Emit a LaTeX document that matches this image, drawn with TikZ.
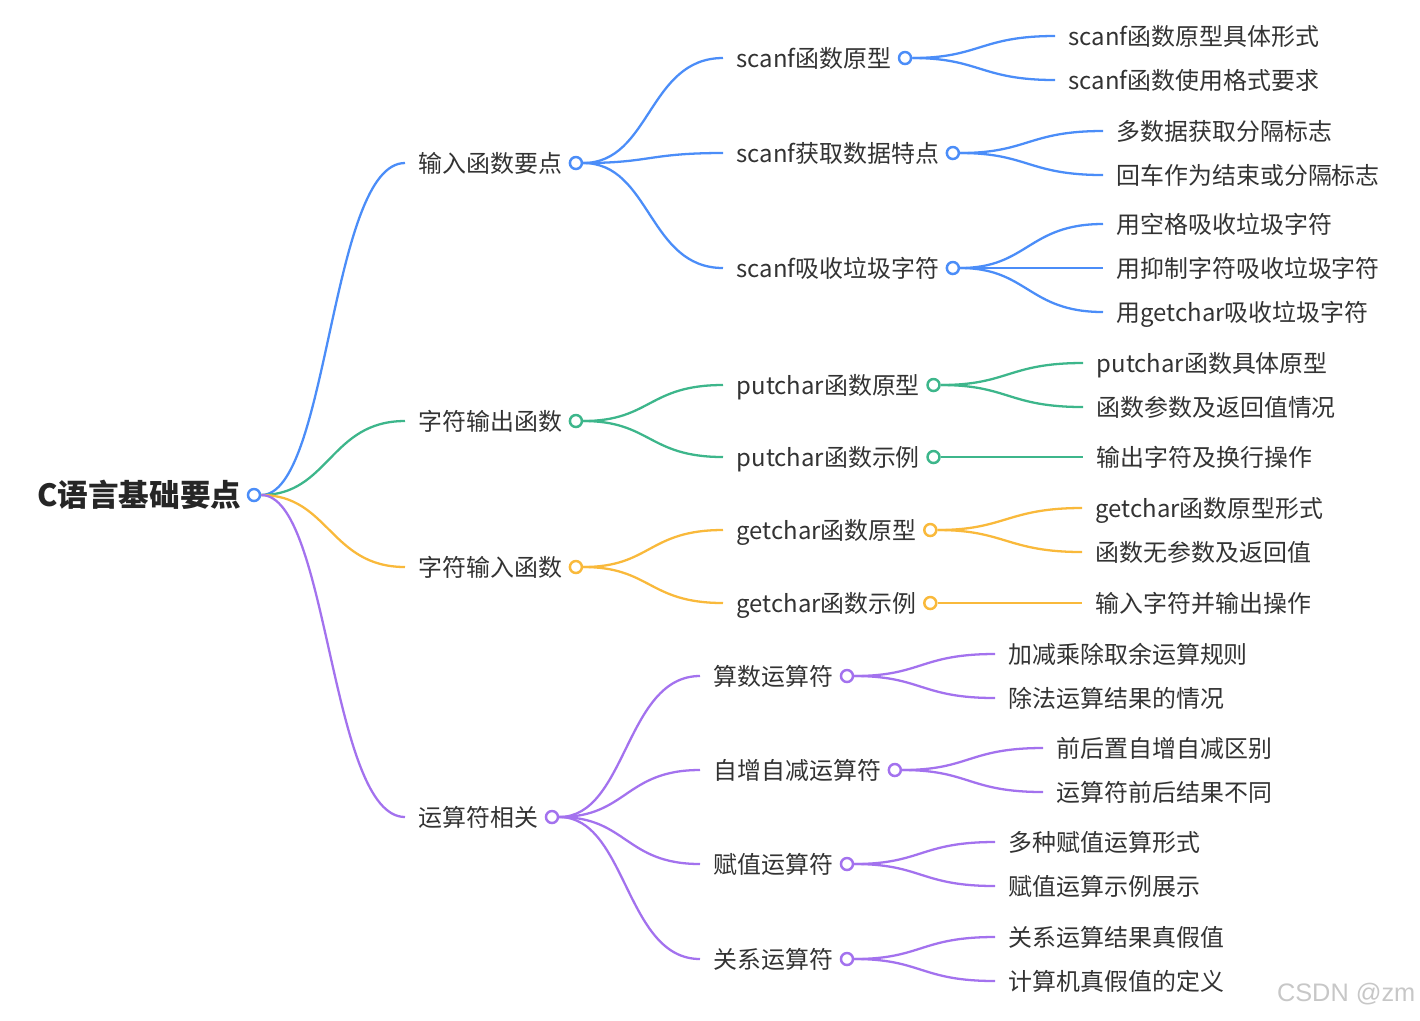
\documentclass[tikz,border=0pt]{standalone}
\usepackage{fontspec}
\setmainfont{Noto Sans CJK SC}
\newfontfamily\markfont{Liberation Sans}
\usetikzlibrary{positioning}
\definecolor{mapBlue}{HTML}{4B8DF8}
\definecolor{mapGreen}{HTML}{3DB68B}
\definecolor{mapOrange}{HTML}{F9B93B}
\definecolor{mapPurple}{HTML}{A372EE}
\definecolor{mapText}{HTML}{333333}

\begin{document}
\begin{tikzpicture}[
    x=0.01cm, y=-0.01cm,
    topic/.style={anchor=west, inner xsep=0.13cm, inner ysep=0pt, text=mapText,
                  font=\fontsize{6.8pt}{8pt}\selectfont, text height=6pt, text depth=0.6pt},
    rootlabel/.style={anchor=east, inner sep=0pt, text=black!85,
                  font=\fontsize{8.7pt}{10pt}\selectfont\bfseries, text height=7.6pt, text depth=1pt},
    dot/.style={circle, draw=#1, fill=white, line width=0.7pt, minimum size=0.12cm, inner sep=0pt},
    link/.style={draw=#1, line width=0.65pt,
                 to path={.. controls +(75,0) and +(-75,0) .. (\tikztotarget)}},
  ]
    \useasboundingbox (0,0) rectangle (1420,1020);

    % ─── Root ───
    \node[rootlabel] (root) at (242,495) {C语言基础要点};
    \node[dot=mapBlue] (rootDot) at (254,495) {};

    % ─── 输入函数要点 ───
    \node[topic] (scanIn) at (405,163) {输入函数要点};
    \draw[link=mapBlue] (rootDot) to (scanIn.west);
    \node[dot=mapBlue] (scanInDot) at (scanIn.east) {};
    \node[topic] (scanProto) at (723,58) {scanf函数原型};
    \node[topic] (scanFeat) at (723,153) {scanf获取数据特点};
    \node[topic] (scanJunk) at (723,268) {scanf吸收垃圾字符};
    \foreach \n in {scanProto,scanFeat,scanJunk}{
      \draw[link=mapBlue] (scanInDot) to (\n.west);
      \node[dot=mapBlue] (\n Dot) at (\n.east) {};
    }
    \foreach \y/\txt [count=\i] in {36/scanf函数原型具体形式,80/scanf函数使用格式要求}{
      \node[topic] (scanProto\i) at (1055,\y) {\txt};
      \draw[link=mapBlue] (scanProtoDot) to (scanProto\i.west);
    }
    \foreach \y/\txt [count=\i] in {131/多数据获取分隔标志,175/回车作为结束或分隔标志}{
      \node[topic] (scanFeat\i) at (1103,\y) {\txt};
      \draw[link=mapBlue] (scanFeatDot) to (scanFeat\i.west);
    }
    \foreach \y/\txt [count=\i] in {224/用空格吸收垃圾字符,268/用抑制字符吸收垃圾字符,312/用getchar吸收垃圾字符}{
      \node[topic] (scanJunk\i) at (1103,\y) {\txt};
      \draw[link=mapBlue] (scanJunkDot) to (scanJunk\i.west);
    }

    % ─── 字符输出函数 ───
    \node[topic] (charOut) at (405,421) {字符输出函数};
    \draw[link=mapGreen] (rootDot) to (charOut.west);
    \node[dot=mapGreen] (charOutDot) at (charOut.east) {};
    \node[topic] (putProto) at (723,385) {putchar函数原型};
    \node[topic] (putDemo) at (723,457) {putchar函数示例};
    \foreach \n in {putProto,putDemo}{
      \draw[link=mapGreen] (charOutDot) to (\n.west);
      \node[dot=mapGreen] (\n Dot) at (\n.east) {};
    }
    \foreach \y/\txt [count=\i] in {363/putchar函数具体原型,407/函数参数及返回值情况}{
      \node[topic] (putProto\i) at (1083,\y) {\txt};
      \draw[link=mapGreen] (putProtoDot) to (putProto\i.west);
    }
    \node[topic] (putDemo1) at (1083,457) {输出字符及换行操作};
    \draw[link=mapGreen] (putDemoDot) to (putDemo1.west);

    % ─── 字符输入函数 ───
    \node[topic] (charIn) at (405,567) {字符输入函数};
    \draw[link=mapOrange] (rootDot) to (charIn.west);
    \node[dot=mapOrange] (charInDot) at (charIn.east) {};
    \node[topic] (getProto) at (723,530) {getchar函数原型};
    \node[topic] (getDemo) at (723,603) {getchar函数示例};
    \foreach \n in {getProto,getDemo}{
      \draw[link=mapOrange] (charInDot) to (\n.west);
      \node[dot=mapOrange] (\n Dot) at (\n.east) {};
    }
    \foreach \y/\txt [count=\i] in {508/getchar函数原型形式,552/函数无参数及返回值}{
      \node[topic] (getProto\i) at (1082,\y) {\txt};
      \draw[link=mapOrange] (getProtoDot) to (getProto\i.west);
    }
    \node[topic] (getDemo1) at (1082,603) {输入字符并输出操作};
    \draw[link=mapOrange] (getDemoDot) to (getDemo1.west);

    % ─── 运算符相关 ───
    \node[topic] (ops) at (405,817) {运算符相关};
    \draw[link=mapPurple] (rootDot) to (ops.west);
    \node[dot=mapPurple] (opsDot) at (ops.east) {};
    \node[topic] (arith) at (700,676) {算数运算符};
    \node[topic] (incdec) at (700,770) {自增自减运算符};
    \node[topic] (assign) at (700,864) {赋值运算符};
    \node[topic] (rel) at (700,959) {关系运算符};
    \foreach \n in {arith,incdec,assign,rel}{
      \draw[link=mapPurple] (opsDot) to (\n.west);
      \node[dot=mapPurple] (\n Dot) at (\n.east) {};
    }
    \foreach \y/\txt [count=\i] in {654/加减乘除取余运算规则,698/除法运算结果的情况}{
      \node[topic] (arith\i) at (995,\y) {\txt};
      \draw[link=mapPurple] (arithDot) to (arith\i.west);
    }
    \foreach \y/\txt [count=\i] in {748/前后置自增自减区别,792/运算符前后结果不同}{
      \node[topic] (incdec\i) at (1043,\y) {\txt};
      \draw[link=mapPurple] (incdecDot) to (incdec\i.west);
    }
    \foreach \y/\txt [count=\i] in {842/多种赋值运算形式,886/赋值运算示例展示}{
      \node[topic] (assign\i) at (995,\y) {\txt};
      \draw[link=mapPurple] (assignDot) to (assign\i.west);
    }
    \foreach \y/\txt [count=\i] in {937/关系运算结果真假值,981/计算机真假值的定义}{
      \node[topic] (rel\i) at (995,\y) {\txt};
      \draw[link=mapPurple] (relDot) to (rel\i.west);
    }

    % watermark
    \node[anchor=east, inner sep=0pt, text=black!22, font=\markfont\fontsize{7.2pt}{9pt}\selectfont]
      (mark) at (1416,994) {CSDN @zm};
  \end{tikzpicture}
\end{document}
